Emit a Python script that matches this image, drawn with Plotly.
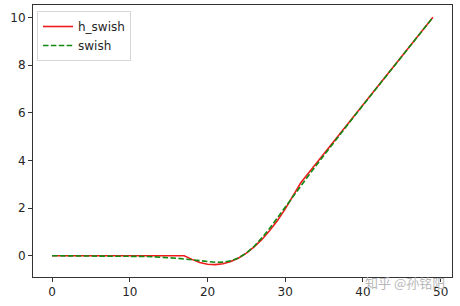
import plotly.graph_objects as go

idx = list(range(50))
h_swish = [0.0]*18 + [-0.1534, -0.2825, -0.3561, -0.3741, -0.3367, -0.2436, -0.0951,
                      0.1090, 0.3686, 0.6837, 1.0544, 1.4806, 1.9624, 2.4997, 3.0612,
                      3.4694, 3.8776, 4.2857, 4.6939, 5.1020, 5.5102, 5.9184, 6.3265,
                      6.7347, 7.1429, 7.5510, 7.9592, 8.3673, 8.7755, 9.1837, 9.5918, 10.0]
swish = [-0.0005, -0.0007, -0.0009, -0.0014, -0.0019, -0.0028, -0.0040, -0.0056,
         -0.0080, -0.0113, -0.0159, -0.0222, -0.0308, -0.0425, -0.0581, -0.0786,
         -0.1047, -0.1369, -0.1745, -0.2150, -0.2524, -0.2762, -0.2704, -0.2152,
         -0.0920, 0.1121, 0.3970, 0.7500, 1.1525, 1.5843, 2.0299, 2.4786, 2.9243,
         3.3647, 3.7990, 4.2276, 4.6514, 5.0712, 5.4880, 5.9025, 6.3152, 6.7267,
         7.1373, 7.5470, 7.9564, 8.3654, 8.7742, 9.1828, 9.5912, 9.9996]
x_ticks = [0, 10, 20, 30, 40, 50]
y_ticks = [0, 2, 4, 6, 8, 10]

fig = go.Figure()
fig.add_trace(go.Scatter(x=idx, y=h_swish, mode="lines", name="h_swish",
                         line=dict(color="#ee1c1c", width=1.6)))
fig.add_trace(go.Scatter(x=idx, y=swish, mode="lines", name="swish",
                         line=dict(color="#128a12", width=1.6, dash="5.5px,2.4px")))

axis_common = dict(showline=True, mirror=True, linecolor="#333333", linewidth=1,
                   ticks="outside", ticklen=4, tickcolor="#333333", tickwidth=1,
                   showgrid=False, zeroline=False,
                   tickfont=dict(family="DejaVu Sans", size=12, color="#262626"))
fig.update_xaxes(range=[-2.45, 51.45], tickvals=x_ticks, **axis_common)
fig.update_yaxes(range=[-0.893, 10.519], tickvals=y_ticks, **axis_common)

pw = 460 - 33 - 8
ph = 306 - 5 - 29
fig.update_layout(
    width=460, height=306,
    margin=dict(l=33, r=8, t=5, b=29),
    paper_bgcolor="white", plot_bgcolor="white",
    showlegend=True,
    legend=dict(x=(37 - 33) / pw, y=(277 - 11) / ph, xanchor="left", yanchor="top",
                bgcolor="rgba(255,255,255,0.8)", bordercolor="#d6d6d6", borderwidth=1,
                font=dict(family="DejaVu Sans", size=12, color="#262626"),
                tracegroupgap=0, itemwidth=30),
    annotations=[dict(text="知乎 @孙铭阳", x=(447 - 33) / pw, y=(277 - 282) / ph,
                      xref="paper", yref="paper",
                      showarrow=False, xanchor="right", yanchor="middle",
                      font=dict(family="Noto Sans CJK SC", size=13, color="#b8b8b8"))],
)

fig.write_html("out.html")
